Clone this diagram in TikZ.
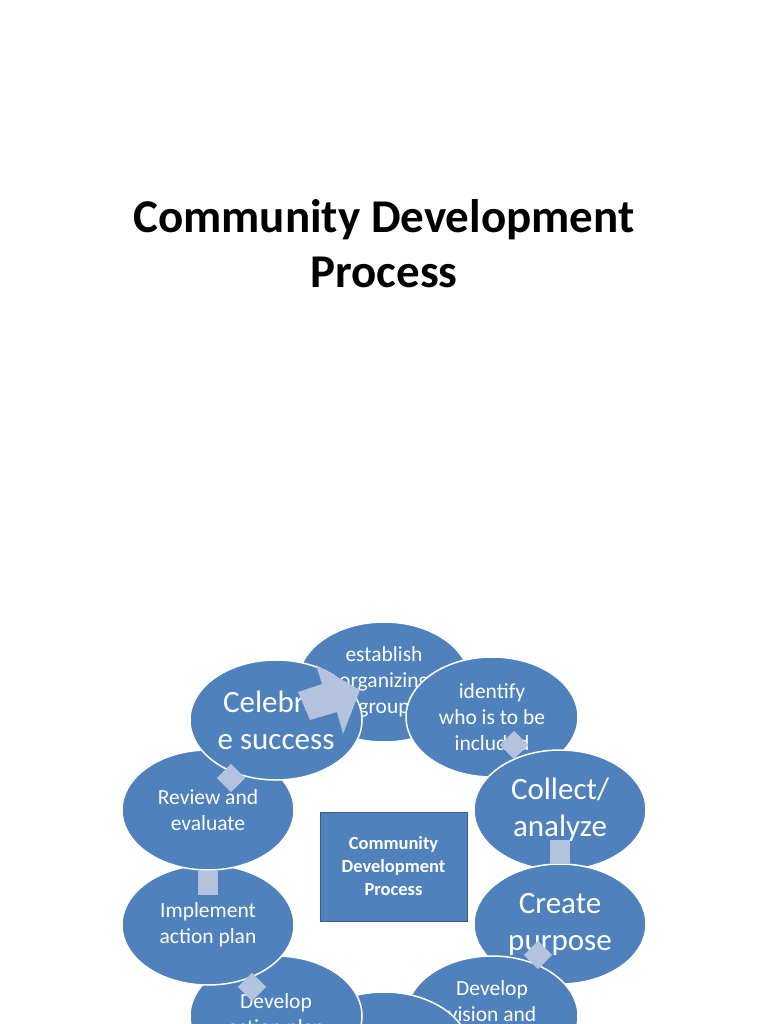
\documentclass[tikz,border=0pt]{standalone}
\usepackage{fontspec}
\setmainfont{Carlito}
\usetikzlibrary{shapes.geometric}
\definecolor{bl}{HTML}{4F81BD}
\definecolor{bld}{HTML}{385D8A}
\definecolor{lk}{HTML}{B3C2DD}
\tikzset{
 el/.style={ellipse,fill=bl,draw=white,line width=1.5pt,minimum width=172pt,minimum height=120pt,text=white,align=center,inner sep=0pt,font=\fontsize{21.5}{26}\selectfont},
 big/.style={font=\fontsize{31}{37}\selectfont},
 lnk/.style={fill=lk,minimum width=20pt,minimum height=20pt,inner sep=0pt}
}
\begin{document}
\begin{tikzpicture}[x=1pt,y=-1pt]
\useasboundingbox (0,0) rectangle (768,1024);
\clip (0,0) rectangle (768,1024);
\node[font=\fontsize{47}{55}\selectfont\bfseries,align=center] (title) at (384,244) {Community Development\\Process};
\node[el] (e1) at (384,682) {establish\\organizing\\group};
\node[el] (e2) at (492,717) {identify\\who is to be\\included};
\node[el,big] (e3) at (560,810) {Collect/\\analyze};
\node[el,big] (e4) at (560,924) {Create\\purpose};
\node[el] (e5) at (492,1016) {Develop\\vision and\\goals};
\node[el] (e6) at (384,1052) {Build the\\team};
\node[el] (e7) at (276,1016) {Develop\\action plan};
\node[el] (e8) at (208,925) {Implement\\action plan};
\node[el] (e9) at (208,810) {Review and\\evaluate};
\node[el,big] (e10) at (276,720) {Celebrat\\e success};
\node[lnk,rotate=45] (l1) at (514,745) {};
\node[lnk,minimum height=24pt] (l2) at (560,852) {};
\node[lnk,rotate=45] (l3) at (538,955) {};
\node[lnk,rotate=-45] (l4) at (252,987) {};
\node[lnk,minimum height=24pt] (l5) at (208,883) {};
\node[lnk,rotate=-45] (l6) at (231,778) {};
\fill[lk] (298,692) -- (322,684) -- (316,665) -- (360,690) -- (343,734) -- (337,712) -- (310,720) -- cycle;
\node[fill=bl,draw=bld,line width=1pt,minimum width=147pt,minimum height=109pt,text=white,align=center,font=\fontsize{18.5}{23}\selectfont\bfseries] (box) at (393.5,866.5) {Community\\Development\\Process};
\end{tikzpicture}
\end{document}
